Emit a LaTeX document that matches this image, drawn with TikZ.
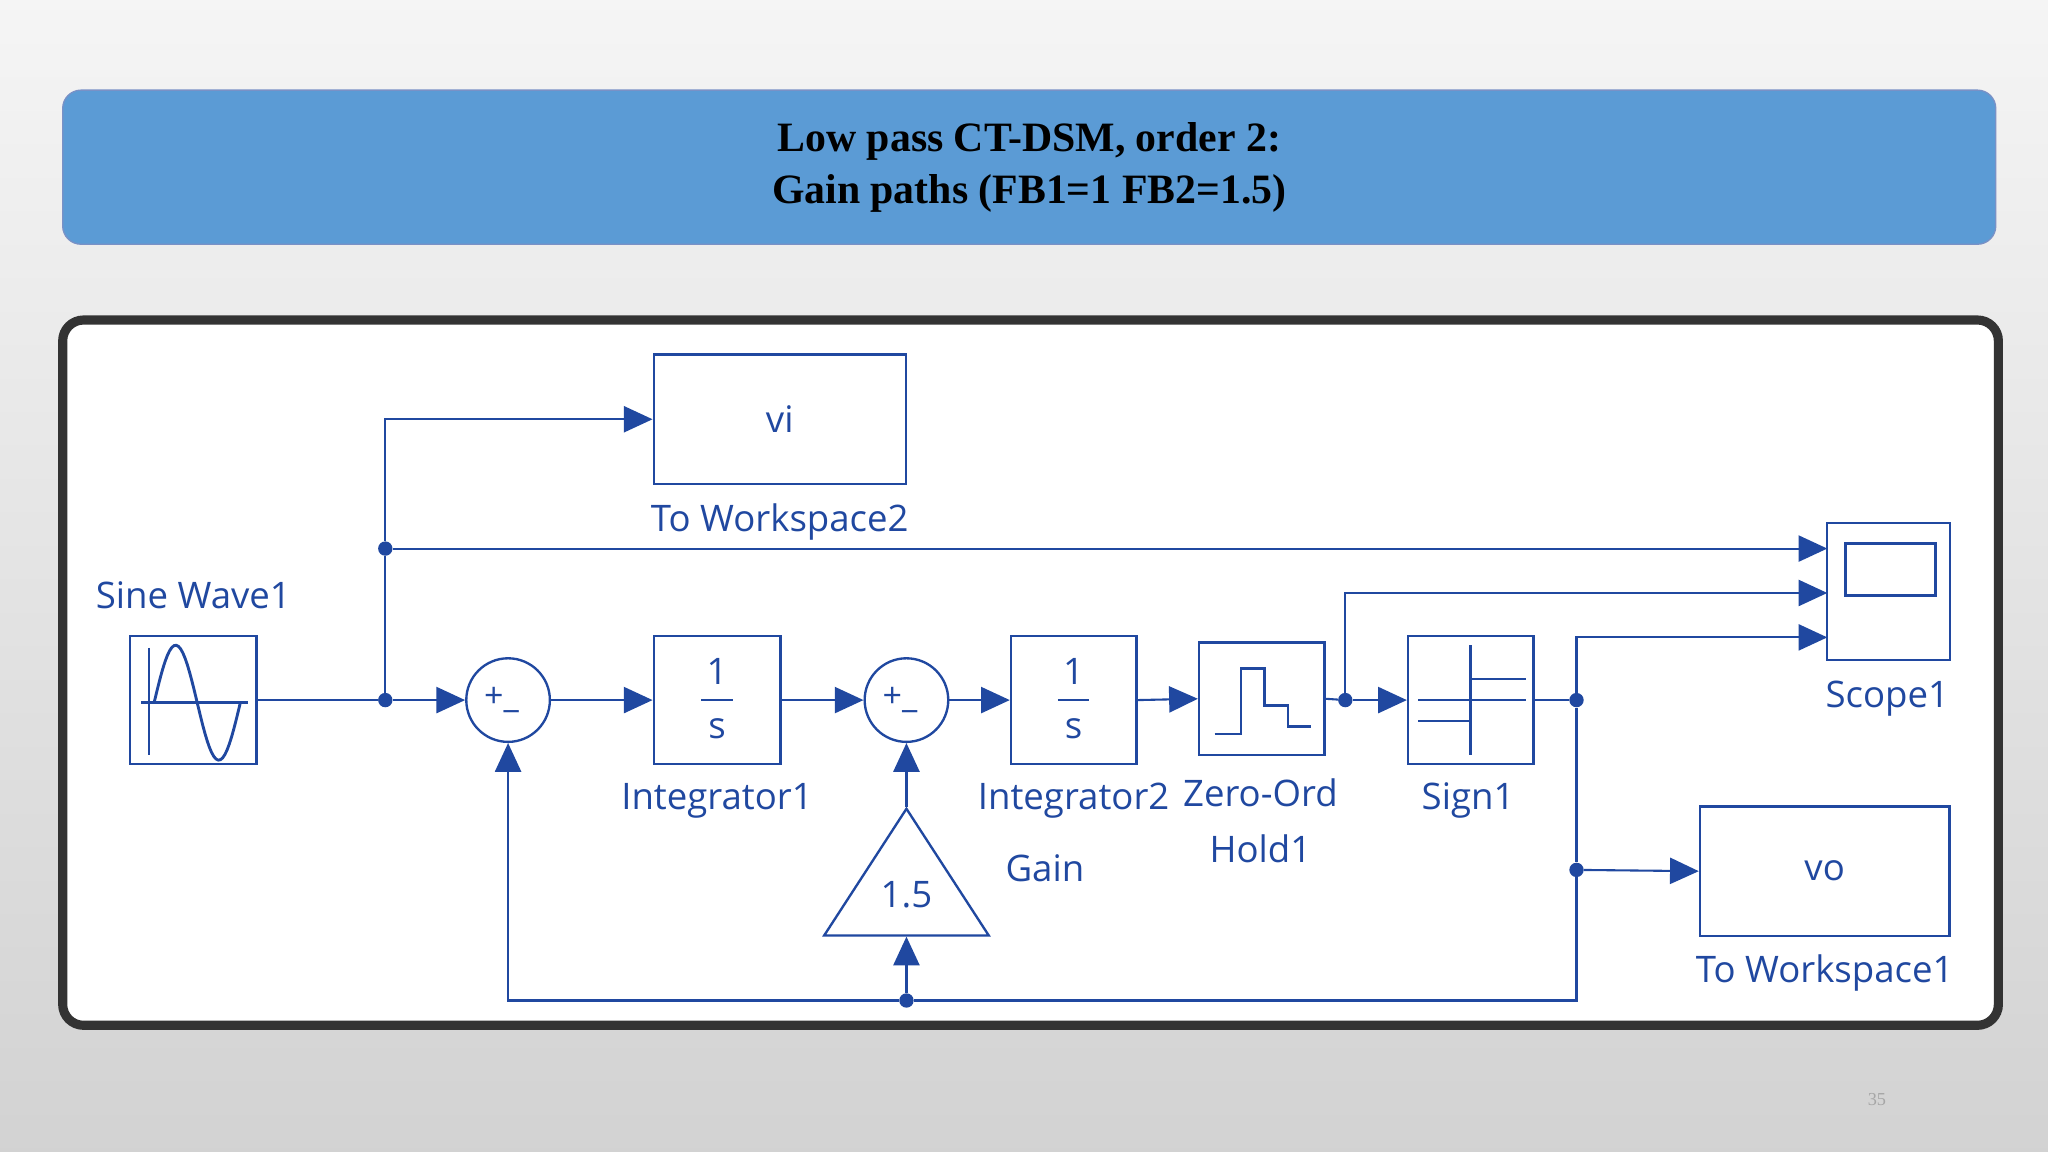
\documentclass[tikz,border=0pt]{standalone}
\usepackage{fontspec}
\setmainfont{Liberation Serif}
\newfontfamily\lab{Open Sans}
\usetikzlibrary{arrows.meta,shapes.geometric}
\definecolor{ln}{RGB}{32,72,160}
\definecolor{tb}{RGB}{91,155,213}
\begin{document}
\begin{tikzpicture}[x=1pt,y=-1pt,
  blk/.style={draw=ln,line width=1.8pt,fill=white},
  wire/.style={ln,line width=1.6pt},
  arr/.style={wire,-{Triangle[length=22pt,width=20pt]}},
  lbl/.style={text=ln,font=\lab\fontsize{28}{32}\selectfont,inner sep=0},
  dot/.style={circle,fill=ln,inner sep=0,minimum size=11pt}]
\useasboundingbox (0,0) rectangle (1568,882);
\shade[top color=white!92!gray,bottom color=gray!35] (0,0) rectangle (1568,882);
\node[draw=ln!60,fill=tb,rounded corners=14pt,minimum width=1480pt,minimum height=118pt,line width=1pt,
  align=center,font=\bfseries\fontsize{32}{40}\selectfont] (title) at (788,128)
  {Low pass CT-DSM, order 2:\\Gain paths (FB1=1 FB2=1.5)};
\draw[fill=white,draw=black!80,line width=7pt,rounded corners=16pt] (48,245) rectangle (1530,785);
\node at (1437,842) [text=gray!70,font=\fontsize{14}{16}\selectfont] (pg) {35};
% blocks
\node[blk,minimum width=97pt,minimum height=98pt] (sine) at (148,536) {};
\draw[ln,line width=2pt] (114,496)--(114,578) (108,538)--(190,538);
\draw[ln,line width=2.2pt] plot[domain=0:1,samples=40] ({118+66*\x},{538-44*sin(360*\x)});
\node[lbl,anchor=south] (sinel) at (148,466) {Sine Wave1};
\node[blk,minimum width=193pt,minimum height=99pt,lbl] (vi) at (597,321) {vi};
\node[lbl] (vil) at (597,400) {To Workspace2};
\node[blk,circle,minimum size=64pt] (s1) at (389,536) {};
\node[lbl,font=\lab\fontsize{26}{28}\selectfont] (s1t) at (384,536) {+\_};
\node[blk,minimum width=97pt,minimum height=98pt] (i1) at (549,536) {};
\node[lbl] (i1n) at (549,514) {1}; \node[lbl] (i1d) at (549,558) {s};
\draw[ln,line width=1.5pt] (537,536)--(561,536);
\node[lbl] (i1l) at (549,613) {Integrator1};
\node[blk,circle,minimum size=64pt] (s2) at (694,536) {};
\node[lbl,font=\lab\fontsize{26}{28}\selectfont] (s2t) at (689,536) {+\_};
\node[blk,minimum width=96pt,minimum height=98pt] (i2) at (822,536) {};
\node[lbl] (i2n) at (822,514) {1}; \node[lbl] (i2d) at (822,558) {s};
\draw[ln,line width=1.5pt] (810,536)--(834,536);
\node[lbl] (i2l) at (822,613) {Integrator2};
\node[blk,minimum width=96pt,minimum height=86pt] (zoh) at (966,535) {};
\draw[ln,line width=2pt] (930,562)--(950,562)--(950,512)--(968,512)--(968,540)--(986,540)--(986,556)--(1004,556);
\node[lbl] (zl1) at (965,607) {Zero-Ord};
\node[lbl] (zl2) at (965,650) {Hold1};
\node[blk,minimum width=96pt,minimum height=98pt] (sg) at (1126,536) {};
\draw[ln,line width=2pt] (1086,536)--(1168,536) (1126,494)--(1126,578) (1086,552)--(1126,552) (1126,520)--(1168,520);
\node[lbl] (sgl) at (1124,613) {Sign1};
\node[blk,minimum width=94pt,minimum height=105pt] (sc) at (1446,453) {};
\draw[ln,line width=2pt] (1413,416) rectangle (1482,456);
\node[lbl] (scl) at (1445,535) {Scope1};
\node[blk,minimum width=191pt,minimum height=99pt,lbl] (vo) at (1397,667) {vo};
\node[lbl] (vol) at (1397,745) {To Workspace1};
\node[blk,isosceles triangle,shape border rotate=90,isosceles triangle apex angle=66,minimum height=97pt,inner sep=0] (g) at (694,682) {};
\node[lbl] (gt) at (694,685) {1.5};
\node[lbl] (gl) at (800,665) {Gain};
% coordinates
\node[dot] (d1) at (295,536) {};
\node[dot] (d2) at (295,420) {};
\node[dot] (d3) at (1030,536) {};
\node[dot] (d4) at (1207,536) {};
\node[dot] (d5) at (1207,666) {};
\node[dot] (d6) at (694,766) {};
\coordinate (c1) at (295,321);
\coordinate (c2) at (1030,454);
\coordinate (c3) at (1207,488);
\coordinate (c4) at (1207,766);
\coordinate (c5) at (389,766);
% wires
\draw[wire] (sine.east)--(d1);
\draw[arr] (d1)--(s1.west);
\draw[wire] (d1)--(d2);
\draw[arr] (d2)--(c1)--(vi.west);
\draw[arr] (d2)--(1399,420);
\draw[arr] (s1.east)--(i1.west);
\draw[arr] (i1.east)--(s2.west);
\draw[arr] (s2.east)--(i2.west);
\draw[arr] (i2.east)--(zoh.west);
\draw[wire] (zoh.east)--(d3);
\draw[arr] (d3)--(sg.west);
\draw[arr] (d3)--(c2)--(1399,454);
\draw[wire] (sg.east)--(d4);
\draw[arr] (d4)--(c3)--(1399,488);
\draw[wire] (d4)--(d5);
\draw[arr] (d5)--(vo.west);
\draw[wire] (d5)--(c4)--(d6);
\draw[arr] (d6)--(g.south);
\draw[arr] (d6)--(c5)--(s1.south);
\draw[arr] (g.apex)--(s2.south);
\end{tikzpicture}
\end{document}
